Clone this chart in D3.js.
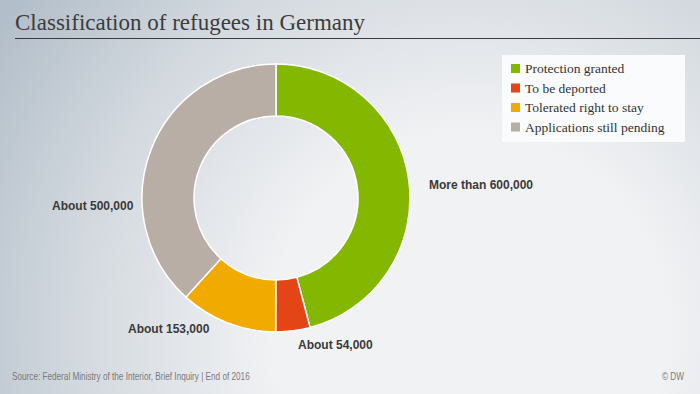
<!DOCTYPE html>
<html>
<head>
<meta charset="utf-8">
<script src="https://cdn.jsdelivr.net/npm/d3@7"></script>
<style>
  body { margin: 0; padding: 0; overflow: hidden; }
  svg { display: block; }
</style>
</head>
<body>
<script>
var width = 700, height = 394;

// data
var categories = ["Protection granted", "To be deported", "Tolerated right to stay", "Applications still pending"];
var values = [600000, 54000, 153000, 500000];
var labels = ["More than 600,000", "About 54,000", "About 153,000", "About 500,000"];
var colors = ["#84b800", "#e34516", "#f1aa00", "#b9aea6"];

var svg = d3.select("body").append("svg")
    .attr("width", width)
    .attr("height", height);

// background
var defs = svg.append("defs");
var grad = defs.append("radialGradient")
    .attr("id", "bg")
    .attr("gradientUnits", "userSpaceOnUse")
    .attr("cx", 470).attr("cy", 330).attr("r", 560);
grad.append("stop").attr("offset", "0.35").attr("stop-color", "#f1f2f4");
grad.append("stop").attr("offset", "0.7").attr("stop-color", "#d3d9df");
grad.append("stop").attr("offset", "1").attr("stop-color", "#b2bec9");

svg.append("rect")
    .attr("width", width).attr("height", height)
    .attr("fill", "url(#bg)");

// title
svg.append("text")
    .attr("x", 15).attr("y", 30)
    .attr("font-family", "'Liberation Serif', 'Times New Roman', serif")
    .attr("font-size", 23)
    .attr("fill", "#3c3c3c")
    .text("Classification of refugees in Germany");

svg.append("line")
    .attr("x1", 15).attr("x2", width)
    .attr("y1", 38.5).attr("y2", 38.5)
    .attr("stroke", "#3c3c3c")
    .attr("stroke-width", 1.2);

// donut
var cx = 276, cy = 198;
var outerR = 134, innerR = 82;

var pie = d3.pie().sort(null).value(function(d){ return d; });
var arc = d3.arc().innerRadius(innerR).outerRadius(outerR);
var arcs = pie(values);

var g = svg.append("g").attr("transform", "translate(" + cx + "," + cy + ")");

g.selectAll("path")
    .data(arcs)
    .enter().append("path")
    .attr("d", arc)
    .attr("fill", function(d, i){ return colors[i]; })
    .attr("stroke", "#ffffff")
    .attr("stroke-width", 1.5);

// slice labels
var labelPos = [
    {x: 429, y: 189},
    {x: 298, y: 349},
    {x: 128, y: 333},
    {x: 52, y: 210}
];

svg.selectAll("text.lbl")
    .data(labels)
    .enter().append("text")
    .attr("class", "lbl")
    .attr("x", function(d, i){ return labelPos[i].x; })
    .attr("y", function(d, i){ return labelPos[i].y; })
    .attr("font-family", "'Liberation Sans', Arial, sans-serif")
    .attr("font-weight", "bold")
    .attr("font-size", 12)
    .attr("fill", "#3a3a3a")
    .text(function(d){ return d; });

// legend
var legend = svg.append("g").attr("transform", "translate(502,55)");
legend.append("rect")
    .attr("width", 183).attr("height", 87)
    .attr("fill", "#fafbfc");

var item = legend.selectAll("g.item")
    .data(categories)
    .enter().append("g")
    .attr("class", "item")
    .attr("transform", function(d, i){ return "translate(9," + (9 + i * 19.5) + ")"; });

item.append("rect")
    .attr("width", 9).attr("height", 9)
    .attr("fill", function(d, i){ return colors[i]; });

item.append("text")
    .attr("x", 14).attr("y", 9)
    .attr("font-family", "'Liberation Serif', 'DejaVu Serif', serif")
    .attr("font-size", 13.5)
    .attr("fill", "#333")
    .text(function(d){ return d; });

// footer (condensed sans, squeezed horizontally)
var foot = svg.append("g").attr("transform", "translate(12,380) scale(0.82,1)");
foot.append("text")
    .attr("font-family", "'Liberation Sans', Arial, sans-serif")
    .attr("font-size", 10)
    .attr("fill", "#7a7a7a")
    .text("Source: Federal Ministry of the Interior, Brief Inquiry | End of 2016");

svg.append("g").attr("transform", "translate(684,380) scale(0.82,1)")
    .append("text")
    .attr("text-anchor", "end")
    .attr("font-family", "'Liberation Sans', Arial, sans-serif")
    .attr("font-size", 10)
    .attr("fill", "#7a7a7a")
    .text("© DW");
</script>
</body>
</html>
